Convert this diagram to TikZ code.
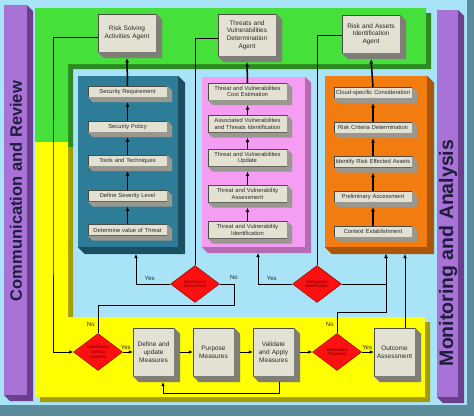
\documentclass[tikz,border=0pt]{standalone}
\usepackage{fontspec}
\setmainfont{Liberation Sans}
\usepackage{tikz}
\usetikzlibrary{shapes.geometric, arrows.meta, positioning}
\definecolor{skyback}{HTML}{A8E3F7}
\definecolor{frameshade}{HTML}{5A8C9C}
\definecolor{leafgreen}{HTML}{45E03A}
\definecolor{leafdark}{HTML}{2C8A20}
\definecolor{sunyellow}{HTML}{FFFF00}
\definecolor{sundark}{HTML}{A39D00}
\definecolor{barpurple}{HTML}{A872D6}
\definecolor{bardark}{HTML}{6B3F8E}
\definecolor{tealpanel}{HTML}{2D7D99}
\definecolor{tealdark}{HTML}{1C4E61}
\definecolor{pinkpanel}{HTML}{F59CF3}
\definecolor{pinkdark}{HTML}{B56BB1}
\definecolor{orangepanel}{HTML}{F27C10}
\definecolor{orangedark}{HTML}{A9560B}
\definecolor{boxface}{HTML}{E2E1D2}
\definecolor{boxside}{HTML}{7E7E76}
\definecolor{alarmred}{HTML}{FF1010}
\definecolor{inktext}{HTML}{2A2A2A}
\definecolor{bartext}{HTML}{1E1E3C}

%% right and bottom faces of a raised box
\newcommand{\extrude}[3]{%
  \fill[#3] (#1.north east) -- ++(#2,#2) -- ([shift={(#2,#2)}]#1.south east) -- (#1.south east) -- cycle;
  \fill[#3] (#1.south west) -- ++(#2,#2) -- ([shift={(#2,#2)}]#1.south east) -- (#1.south east) -- cycle;}

\tikzset{
  panel/.style={inner sep=0pt},
  agentbox/.style={draw=boxside!60!black, line width=0.3pt, fill=boxface, align=center, text=inktext,
    font=\fontsize{6.5}{7.6}\selectfont, inner sep=0pt, minimum width=58pt, text width=56pt},
  stepbox/.style={draw=boxside!60!black, line width=0.3pt, fill=boxface, align=center, text=inktext,
    font=\fontsize{5.8}{6.8}\selectfont, inner sep=0pt, minimum width=79pt, text width=77pt, minimum height=11pt},
  measurebox/.style={draw=boxside!60!black, line width=0.3pt, fill=boxface, align=center, text=inktext,
    font=\fontsize{6.5}{7.8}\selectfont, inner sep=0pt, minimum width=41pt, text width=39pt, minimum height=48pt},
  decision/.style={diamond, aspect=1.3, draw=red!55!black, fill=alarmred, minimum width=49pt, minimum height=37pt,
    inner sep=0pt, align=center, text=red!40!black, font=\fontsize{4.2}{4.8}\selectfont},
  flowup/.style={-{Latex[length=4.5pt,width=4pt]}, line width=1.5pt},
  link/.style={line width=0.7pt},
  linkto/.style={link, -{Latex[length=4pt,width=3.5pt]}},
  answer/.style={font=\fontsize{6}{7}\selectfont, text=inktext, inner sep=1pt},
  barlabel/.style={rotate=90, font=\bfseries\fontsize{16.5}{16.5}\selectfont, text=bartext}
}

\begin{document}
\begin{tikzpicture}[x=1pt, y=-1pt]
	\useasboundingbox (0,0) rectangle (474,416);
	\fill[frameshade] (0,0) rectangle (474,416);
	\fill[skyback] (0,0) rectangle (467,405);
	
	%% green and yellow frame
	\fill[leafdark] (40,13) -- (431,13) -- (431,69) -- (73,69) -- (73,147) -- (40,147) -- cycle;
	\fill[sundark] (40,147) -- (73,147) -- (73,322) -- (430,322) -- (430,402) -- (40,402) -- cycle;
	\fill[leafgreen] (35,8) -- (426,8) -- (426,64) -- (68,64) -- (68,142) -- (35,142) -- cycle;
	\fill[sunyellow] (35,142) -- (68,142) -- (68,317) -- (425,317) -- (425,397) -- (35,397) -- cycle;
	
	%% side bars
	\fill[bardark] (27,5) -- (33,11) -- (33,401) -- (10,401) -- (4,395) -- (27,395) -- cycle;
	\fill[barpurple] (4,5) rectangle (27,395);
	\fill[bardark] (458,10) -- (464,16) -- (464,403) -- (443,403) -- (437,397) -- (458,397) -- cycle;
	\fill[barpurple] (437,10) rectangle (458,397);
	\node[barlabel] (review) at (16,191) {Communication and Review};
	\node[barlabel, font=\bfseries\fontsize{19.5}{19.5}\selectfont] (monitor) at (448,253) {Monitoring and Analysis};
	
	%% agents
	\node[agentbox, minimum height=38pt] (agSolve) at (127,33) {Risk Solving\\Activities Agent};
	\node[agentbox, minimum height=42pt] (agThreat) at (247,35) {Threats and\\Vulnerabilities\\Determination\\Agent};
	\node[agentbox, minimum height=38pt] (agAssets) at (371,34) {Risk and Assets\\Identification\\Agent};
	\foreach \n in {agSolve, agThreat, agAssets} {\extrude{\n}{6}{boxside}}
	
	%% panels
	\node[panel, fill=tealpanel, minimum width=100pt, minimum height=171pt] (pTeal) at (128,161.5) {};
	\node[panel, fill=pinkpanel, minimum width=103pt, minimum height=170pt] (pPink) at (253.5,162) {};
	\node[panel, fill=orangepanel, minimum width=102pt, minimum height=171pt] (pOrange) at (376,161.5) {};
	\extrude{pTeal}{7}{tealdark}
	\extrude{pPink}{6}{pinkdark}
	\extrude{pOrange}{7}{orangedark}
	
	\node[stepbox] (secReq) at (127.5,91.5) {Security Requirement};
	\node[stepbox] (secPol) at (127.5,126.5) {Security Policy};
	\node[stepbox] (tools) at (127.5,160.5) {Tools and Techniques};
	\node[stepbox] (severity) at (127.5,196) {Define Severity Level};
	\node[stepbox] (threatVal) at (127.5,230) {Determine value of Threat};
	
	\node[stepbox, minimum height=17pt] (costEst) at (247.5,91.5) {Threat and Vulnerabilities\\Cost Estimation};
	\node[stepbox, minimum height=17pt] (assocId) at (247.5,124) {Associated Vulnerabilities\\and Threats Identification};
	\node[stepbox, minimum height=17pt] (tvUpdate) at (247.5,158) {Threat and Vulnerabilities\\Update};
	\node[stepbox, minimum height=17pt] (tvAssess) at (247.5,194) {Threat and Vulnerability\\Assessment};
	\node[stepbox, minimum height=17pt] (tvIdent) at (247.5,230) {Threat and Vulnerability\\Identification};
	
	\node[stepbox, minimum width=78pt] (cloudCon) at (373,92.5) {Cloud-specific Consideration};
	\node[stepbox, minimum width=78pt] (riskCrit) at (373,127.5) {Risk Criteria Determination};
	\node[stepbox, minimum width=78pt] (riskAssets) at (373,162) {Identify Risk Effected Assets};
	\node[stepbox, minimum width=78pt] (prelim) at (373,196.5) {Preliminary Accessment};
	\node[stepbox, minimum width=78pt] (context) at (373,231.5) {Context Establishment};
	\foreach \n in {secReq, secPol, tools, severity, threatVal, costEst, assocId, tvUpdate, tvAssess, tvIdent,
	  cloudCon, riskCrit, riskAssets, prelim, context} {\extrude{\n}{5}{boxside!80}}
	
	\foreach \a/\b/\d in {threatVal/severity/5, severity/tools/5, tools/secPol/5, secPol/secReq/5, secReq/agSolve/6,
	  tvIdent/tvAssess/5, tvAssess/tvUpdate/5, tvUpdate/assocId/5, assocId/costEst/5, costEst/agThreat/6,
	  context/prelim/5, prelim/riskAssets/5, riskAssets/riskCrit/5, riskCrit/cloudCon/5, cloudCon/agAssets/6}
	  {\draw[flowup] (\a.north) -- ([yshift=-\d pt]\b.south);}
	
	%% decisions and measures
	\node[decision] (dAssess) at (195,284) {Satisfactory\\Assessment};
	\node[decision] (dIdent) at (317,284) {Satisfactory\\Identification};
	\node[decision] (dSolve) at (98,352) {Satisfactory\\Solving\\Activities};
	\node[decision] (dTreat) at (337,352) {Satisfactory\\Treatment};
	
	\node[measurebox] (bDefine) at (153.5,352) {Define and\\update\\Measures};
	\node[measurebox] (bPurpose) at (213.5,352) {Purpose\\Measures};
	\node[measurebox] (bValidate) at (273.5,352) {Validate\\and Apply\\Measures};
	\node[measurebox] (bOutcome) at (394.5,352) {Outcome\\Assessment};
	\foreach \n in {bDefine, bPurpose, bValidate, bOutcome} {\extrude{\n}{6}{boxside}}
	
	%% connectors
	\coordinate (leftRail) at (53,200);
	\coordinate (midRail) at (234,305);
	\coordinate (tealFoot) at (136,254);
	\coordinate (pinkFoot) at (258,253);
	\coordinate (orangeFootA) at (386,254);
	\coordinate (orangeFootB) at (405,254);
	\coordinate (treatRail) at (386,312);
	
	\draw[linkto] ([yshift=-4pt]agSolve.west) -| (leftRail) |- (dSolve.west);
	\draw[link] ([yshift=-3pt]agThreat.west) -| (dAssess.north);
	\draw[link] ([yshift=-1pt]agAssets.west) -| (dIdent.north);
	\draw[linkto] (dAssess.west) -| node[pos=0.3, above=2pt, answer] {Yes} (tealFoot);
	\draw[link] (dAssess.east) -| node[pos=0.5, above=3pt, answer] {No} (midRail) -| node[pos=0.85, left=2pt, answer] {No} (dSolve.north);
	\draw[linkto] (dIdent.west) -| node[pos=0.3, above=2pt, answer] {Yes} (pinkFoot);
	\draw[linkto] (dIdent.east) -| (orangeFootA);
	\draw[linkto] (dTreat.north) |- node[pos=0.2, left=2pt, answer] {No} (treatRail) -- (orangeFootA);
	\draw[linkto] ([xshift=10.5pt]bOutcome.north) -- (orangeFootB);
	
	\draw[linkto] (dSolve.east) -- node[pos=0.3, above=1pt, answer] {Yes} (bDefine.west);
	\draw[linkto] ([xshift=6pt]bDefine.east) -- (bPurpose.west);
	\draw[linkto] ([xshift=6pt]bPurpose.east) -- (bValidate.west);
	\draw[linkto] ([xshift=6pt]bValidate.east) -- (dTreat.west);
	\draw[linkto] (dTreat.east) -- node[pos=0.45, above=1pt, answer] {Yes} (bOutcome.west);
	\draw[linkto] ([xshift=5.5pt,yshift=-6pt]bValidate.south) -- ++(0,11) -| ([xshift=9.5pt,yshift=-6pt]bDefine.south);
\end{tikzpicture}
\end{document}
